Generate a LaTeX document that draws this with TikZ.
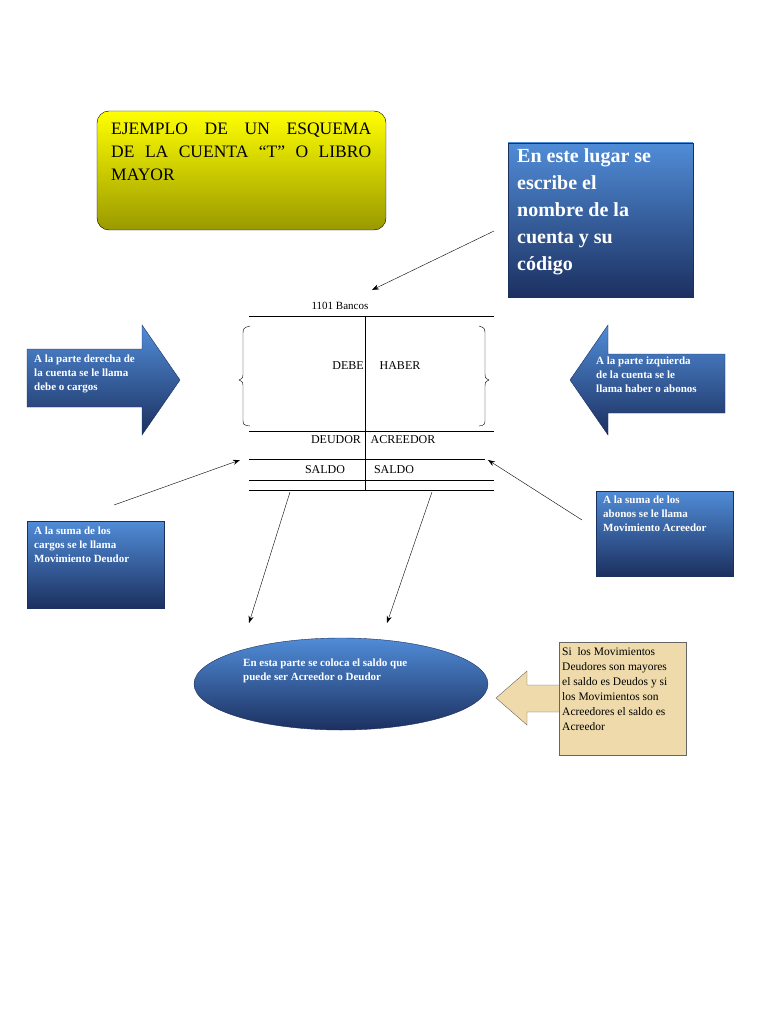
\documentclass[tikz,border=0pt]{standalone}
\usepackage{fontspec}
\setmainfont{Liberation Serif}
\usetikzlibrary{arrows.meta,shapes.geometric}
\definecolor{navy}{RGB}{28,48,96}
\definecolor{sky}{RGB}{80,140,215}
\definecolor{parch}{RGB}{238,218,170}
\begin{document}
\begin{tikzpicture}[x=1pt,y=-1pt,
	bluebox/.style={draw=navy,top color=sky,bottom color=navy},
	whitetext/.style={text=white,font=\bfseries\fontsize{11}{14}\selectfont,align=left,inner sep=0pt,anchor=north west},
	pointer/.style={-{Stealth[length=7pt,width=5pt]},thin},
	rule/.style={thin},
	label/.style={font=\fontsize{12}{14}\selectfont}]
\useasboundingbox (0,0) rectangle (768,1024);
%% title
\draw[rounded corners=12pt,top color=yellow,bottom color=yellow!60!black] (97,111) rectangle (386,230);
\node[anchor=north west,align=justify,inner sep=0pt,text width=260pt,
	font=\fontsize{17.5}{23}\selectfont] (title) at (111,123)
	{EJEMPLO DE UN ESQUEMA DE LA CUENTA ``T'' O LIBRO MAYOR};
\draw[bluebox] (508,143) rectangle (693,297);
\node[whitetext,font=\bfseries\fontsize{20}{27}\selectfont] (name) at (517,148)
	{En este lugar se\\escribe el\\nombre de la\\cuenta y su\\código};
%% the T account
\coordinate (tl) at (249,316); \coordinate (tr) at (494,316);
\coordinate (top) at (365,316); \coordinate (bot) at (365,490);
\draw[rule] (tl) -- (tr);
\draw[rule] (top) -- (bot);
\draw[rule] (249,431) -- (494,431);
\draw[rule] (249,459) -- (485,459);
\draw[rule] (249,480) -- (494,480);
\draw[rule] (249,490) -- (494,490);
\draw[rule] (250,326) .. controls (243,328) .. (243,336) -- (243,372) .. controls (243,378) .. (239,380)
	.. controls (243,382) .. (243,388) -- (243,418) .. controls (243,425) .. (250,426);
\draw[rule] (479,326) .. controls (485,328) .. (485,336) -- (485,372) .. controls (485,378) .. (489,380)
	.. controls (485,382) .. (485,388) -- (485,418) .. controls (485,425) .. (479,426);
\node[font=\fontsize{11}{13}\selectfont] (code) at (340,306) {1101 Bancos};
\node[label] (debe) at (348,366) {DEBE};
\node[label] (haber) at (400,366) {HABER};
\node[label] (deudor) at (336,440) {DEUDOR};
\node[label] (acreedor) at (403,440) {ACREEDOR};
\node[label] (saldoa) at (325,470) {SALDO};
\node[label] (saldob) at (394,470) {SALDO};
\coordinate (nametip) at (372,290);
\draw[pointer] (494,231) -- (nametip);
%% side arrows
\draw[bluebox] (27,349) -- (142,349) -- (142,325) -- (180,380) -- (142,435) -- (142,407) -- (27,407) -- cycle;
\node[whitetext] (left) at (34,355) {A la parte derecha de\\la cuenta se le llama\\debe o cargos};
\draw[bluebox] (725,354) -- (608,354) -- (608,325) -- (570,380) -- (608,435) -- (608,413) -- (725,413) -- cycle;
\node[whitetext] (right) at (596,357) {A la parte izquierda\\de la cuenta se le\\llama haber o abonos};
%% movement boxes
\draw[bluebox] (27,521) rectangle (164,608);
\node[whitetext] (cargos) at (34,527) {A la suma de los\\cargos se le llama\\Movimiento Deudor};
\draw[bluebox] (596,491) rectangle (733,576);
\node[whitetext] (abonos) at (603,496) {A la suma de los\\abonos se le llama\\Movimiento Acreedor};
\draw[pointer] (114,505) -- (240,460);
\draw[pointer] (582,520) -- (488,460);
\draw[pointer] (290,492) -- (249,623);
\draw[pointer] (432,492) -- (387,623);
%% balance
\node[bluebox,ellipse,minimum width=294pt,minimum height=92pt] (saldo) at (341,684) {};
\node[whitetext] (saldotext) at (243,659)
	{En esta parte se coloca el saldo que\\puede ser Acreedor o Deudor};
\draw[draw=black!60,fill=parch] (559,685) -- (527,685) -- (527,671) -- (496,698) -- (527,725) -- (527,712) -- (559,712);
\draw[draw=black!60,fill=parch] (559,642) rectangle (686,755);
\node[font=\fontsize{11.5}{15}\selectfont,align=left,anchor=north west,inner sep=0pt] (notetext) at (562,647)
	{Si \ los Movimientos\\Deudores son mayores\\el saldo es Deudos y si\\los Movimientos son\\Acreedores el saldo es\\Acreedor};
\end{tikzpicture}
\end{document}
